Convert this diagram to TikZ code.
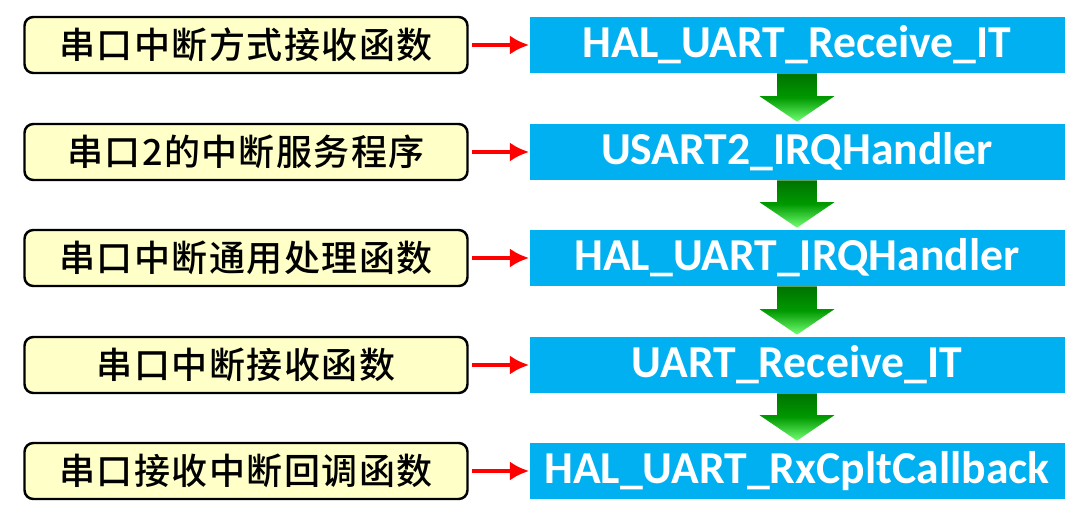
\documentclass[tikz,border=0pt]{standalone}
\usepackage{fontspec}
\newfontfamily\cjk[LetterSpace=4]{Noto Sans CJK SC Medium}
\newfontfamily\lat{Carlito}
\definecolor{cyanbox}{HTML}{00B0F0}
\definecolor{yel}{HTML}{FFFFC8}
\begin{document}
\begin{tikzpicture}[x=0.02cm,y=-0.02cm,
  lbox/.style={draw=black,line width=1.4pt,rounded corners=5pt,fill=yel,minimum width=443*0.02cm,minimum height=56*0.02cm,font=\cjk\fontsize{20.5}{22}\selectfont},
  rbox/.style={fill=cyanbox,minimum width=535*0.02cm,minimum height=56*0.02cm,text=white,font=\lat\bfseries\fontsize{26}{28}\selectfont},
  redarr/.style={red,line width=2.8pt,-{Latex[length=11pt,width=11pt]}}]
\usetikzlibrary{arrows.meta}
\useasboundingbox (0,0) rectangle (1080,521);
\foreach \i/\y/\l/\r in {1/45/串口中断方式接收函数/HAL\_UART\_Receive\_IT,
  2/152/串口2的中断服务程序/USART2\_IRQHandler,
  3/258/串口中断通用处理函数/HAL\_UART\_IRQHandler,
  4/365/串口中断接收函数/UART\_Receive\_IT,
  5/471/串口接收中断回调函数/HAL\_UART\_RxCpltCallback}{
  \node[lbox] (l\i) at (246,\y) {\l};
  \node[rbox] (r\i) at (797,\y) {\r};
  \draw[redarr] ([xshift=2pt]l\i.east) -- (r\i.west);
}
\foreach \a/\b in {1/2,2/3,3/4,4/5}{
  \shade[top color=green!45!black,bottom color=green!55!white,middle color=green!60!black]
    ([xshift=-0.4cm]r\a.south) -- ([xshift=0.4cm]r\a.south) -- ([xshift=0.4cm,yshift=0.55cm]r\b.north)
    -- ([xshift=0.75cm,yshift=0.55cm]r\b.north) -- ([yshift=0.04cm]r\b.north) -- ([xshift=-0.75cm,yshift=0.55cm]r\b.north)
    -- ([xshift=-0.4cm,yshift=0.55cm]r\b.north) -- cycle;
}
\end{tikzpicture}
\end{document}
